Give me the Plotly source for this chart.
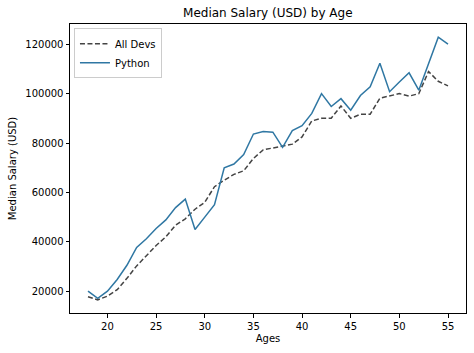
import plotly.graph_objects as go

ages_x = [18, 19, 20, 21, 22, 23, 24, 25, 26, 27, 28, 29, 30, 31, 32, 33, 34, 35, 36,
          37, 38, 39, 40, 41, 42, 43, 44, 45, 46, 47, 48, 49, 50, 51, 52, 53, 54, 55]

dev_y = [17784, 16500, 18012, 20628, 25206, 30252, 34368, 38496, 42000, 46752, 49320,
         53200, 56000, 62316, 64928, 67317, 68748, 73752, 77232, 78000, 78508, 79536,
         82488, 88935, 90000, 90056, 95000, 90000, 91633, 91660, 98150, 98964, 100000,
         98988, 100000, 108923, 105000, 103117]

py_dev_y = [20046, 17100, 20000, 24744, 30500, 37732, 41247, 45372, 48876, 53850, 57287,
            45000, 50000, 55000, 70000, 71496, 75370, 83640, 84666, 84392, 78254, 85000,
            87038, 91991, 100000, 94796, 97962, 93302, 99240, 102736, 112285, 100771,
            104708, 108423, 101407, 112542, 122870, 120000]

x_ticks = [20, 25, 30, 35, 40, 45, 50, 55]
y_ticks = [20000, 40000, 60000, 80000, 100000, 120000]
y_labels = [str(v) for v in y_ticks]

fig = go.Figure()
fig.add_trace(go.Scatter(x=ages_x, y=dev_y, mode="lines", name="All Devs",
                         line=dict(color="#444444", dash="5px,2.5px", width=1.5)))
fig.add_trace(go.Scatter(x=ages_x, y=py_dev_y, mode="lines", name="Python",
                         line=dict(color="#2f77a3", width=1.5)))

font = "DejaVu Sans"
fig.update_layout(
    width=474, height=353,
    margin=dict(l=70, r=8, t=24, b=40),
    paper_bgcolor="white", plot_bgcolor="white",
    font=dict(family=font, size=10, color="black"),
    title=dict(text="Median Salary (USD) by Age", x=0.565, xanchor="center",
               y=1 - 13 / 353, yanchor="middle", font=dict(size=12, family=font)),
    showlegend=True,
    legend=dict(x=0.01, y=0.985, xanchor="left", yanchor="top",
                bgcolor="rgba(255,255,255,0.8)", bordercolor="#cccccc", borderwidth=1,
                font=dict(size=10, family=font), itemwidth=30, tracegroupgap=0),
)
fig.update_xaxes(range=[16.15, 56.85], tickvals=x_ticks, ticks="outside", ticklen=3.5,
                 tickcolor="black", showline=True, linecolor="black", linewidth=1,
                 mirror=True, showgrid=False, zeroline=False,
                 title=dict(text="Ages", standoff=4, font=dict(size=10)))
fig.update_yaxes(range=[11182, 128188], tickvals=y_ticks, ticktext=y_labels,
                 ticks="outside", ticklen=3.5,
                 tickcolor="black", showline=True, linecolor="black", linewidth=1,
                 mirror=True, showgrid=False, zeroline=False,
                 title=dict(text="Median Salary (USD)", standoff=6, font=dict(size=10)))

fig.write_html("out.html")
